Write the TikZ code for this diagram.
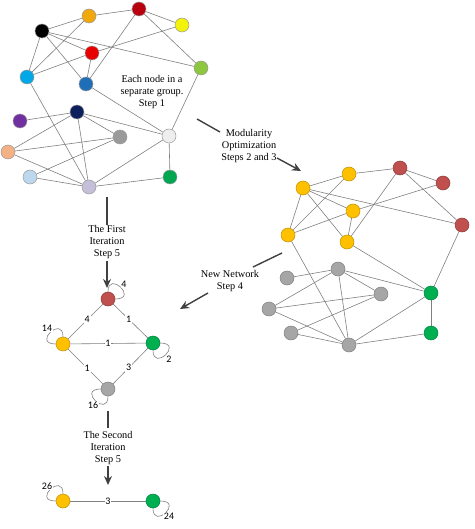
\documentclass[tikz,border=0pt]{standalone}
\usepackage{fontspec}
\setmainfont{Liberation Serif}
\newfontfamily\numfont{Carlito}
\usetikzlibrary{arrows.meta}
\pgfdeclarelayer{bg}
\pgfsetlayers{bg,main}
\definecolor{cGold}{HTML}{F0A80A}
\definecolor{cDRed}{HTML}{B8000F}
\definecolor{cYel}{HTML}{F2F20A}
\definecolor{cRed}{HTML}{E60000}
\definecolor{cCyan}{HTML}{00A8E8}
\definecolor{cBlue}{HTML}{1F6FB8}
\definecolor{cYGr}{HTML}{8DC63F}
\definecolor{cPurp}{HTML}{7030A0}
\definecolor{cNavy}{HTML}{0D1F5C}
\definecolor{cGray}{HTML}{9A9A9A}
\definecolor{cLight}{HTML}{EEEEEE}
\definecolor{cPeach}{HTML}{F4B183}
\definecolor{cPale}{HTML}{BDD7EE}
\definecolor{cLav}{HTML}{C5BFD9}
\definecolor{cGreen}{HTML}{00A650}
\definecolor{kY}{HTML}{FFC000}
\definecolor{kYb}{HTML}{BF9000}
\definecolor{kR}{HTML}{C0504D}
\definecolor{kRb}{HTML}{8C3A37}
\definecolor{kG}{HTML}{A6A6A6}
\definecolor{kGb}{HTML}{808080}
\definecolor{kN}{HTML}{00B050}
\definecolor{kNb}{HTML}{008040}
\definecolor{edgecol}{HTML}{808080}
\definecolor{arrcol}{HTML}{404040}
\begin{document}
\begin{tikzpicture}[x=1pt,y=-1pt,
  nd/.style={circle,minimum size=14pt,inner sep=0pt,line width=0.5pt,draw=black!40},
  ny/.style={nd,fill=kY,draw=kYb},
  nr/.style={nd,fill=kR,draw=kRb},
  ng/.style={nd,fill=kG,draw=kGb},
  nn/.style={nd,fill=kN,draw=kNb},
  edge/.style={draw=edgecol,line width=0.6pt},
  arrline/.style={draw=arrcol,line width=1.4pt},
  arr/.style={draw=arrcol,line width=1.4pt,-{Stealth[length=9pt,width=8pt]}},
  steptxt/.style={align=center,font=\fontsize{10.3}{12.2}\selectfont,inner sep=0pt},
  elab/.style={fill=white,inner sep=0.8pt,font=\numfont\fontsize{10}{10}\selectfont},
  nlab/.style={fill=white,inner sep=0.5pt,font=\numfont\fontsize{10}{10}\selectfont}]
\useasboundingbox (0,0) rectangle (474,529);
% ---------- network 1 ----------
\node[nd,fill=black] (a1) at (42,31) {};
\node[nd,fill=cGold] (b1) at (89,16) {};
\node[nd,fill=cDRed] (c1) at (139,9) {};
\node[nd,fill=cYel] (d1) at (182,25) {};
\node[nd,fill=cRed] (e1) at (92,53) {};
\node[nd,fill=cCyan] (f1) at (27,77) {};
\node[nd,fill=cBlue] (g1) at (86,84) {};
\node[nd,fill=cYGr] (h1) at (201,68) {};
\node[nd,fill=cPurp] (i1) at (20,121) {};
\node[nd,fill=cNavy] (j1) at (77,112) {};
\node[nd,fill=cGray] (k1) at (120,137) {};
\node[nd,fill=cLight] (l1) at (169,136) {};
\node[nd,fill=cPeach] (m1) at (8,152) {};
\node[nd,fill=cPale] (n1) at (30,177) {};
\node[nd,fill=cLav] (o1) at (89,187) {};
\node[nd,fill=cGreen] (p1) at (170,177) {};
% ---------- network 2 ----------
\node[ny] (a2) at (303,188) {};
\node[ny] (b2) at (349,174) {};
\node[nr] (c2) at (400,168) {};
\node[nr] (d2) at (443,183) {};
\node[ny] (e2) at (353,211) {};
\node[ny] (f2) at (288,235) {};
\node[ny] (g2) at (347,242) {};
\node[nr] (h2) at (462,225) {};
\node[ng] (i2) at (287,278) {};
\node[ng] (j2) at (338,269) {};
\node[ng] (k2) at (381,294) {};
\node[nn] (l2) at (431,293) {};
\node[ng] (m2) at (269,309) {};
\node[ng] (n2) at (291,333) {};
\node[ng] (o2) at (349,345) {};
\node[nn] (p2) at (431,333) {};
\begin{pgfonlayer}{bg}
\foreach \u/\v in {a/b,b/c,c/d,a/f,a/e,a/g,a/h,b/f,f/e,e/g,g/c,e/d,c/h,h/l,g/l,f/o,
                   i/j,j/l,j/k,j/o,j/m,m/k,m/o,n/k,n/o,o/l,o/p,l/p}{
  \draw[edge] (\u1) -- (\v1);
  \draw[edge] (\u2) -- (\v2);
}
\end{pgfonlayer}
% ---------- texts and arrows ----------
\node[steptxt] (t1) at (152,92) {Each node in a\\separate group.\\Step 1};
\node[steptxt] (t2) at (249,146) {Modularity\\Optimization\\Steps 2 and 3};
\coordinate (m1a) at (197,119);
\coordinate (m1b) at (220,132);
\coordinate (m1c) at (277,158);
\coordinate (m1d) at (301,171);
\draw[arrline] (m1a) -- (m1b);
\draw[arr] (m1c) -- (m1d);
\node[steptxt] (t3) at (230,281) {New Network\\Step 4};
\coordinate (n1a) at (282,253);
\coordinate (n1b) at (253,267);
\coordinate (n1c) at (208,293);
\coordinate (n1d) at (180,309);
\draw[arrline] (n1a) -- (n1b);
\draw[arr] (n1c) -- (n1d);
\node[steptxt] (t4) at (107,242) {The First\\Iteration\\Step 5};
\coordinate (f1a) at (107,197);
\coordinate (f1b) at (107,225);
\coordinate (f1c) at (107,261);
\coordinate (f1d) at (107,288);
\draw[arrline] (f1a) -- (f1b);
\draw[arr] (f1c) -- (f1d);
% ---------- first aggregated graph ----------
\node[nr] (r3) at (108,299) {};
\node[ny] (y3) at (63,344) {};
\node[nn] (g3) at (153,343) {};
\node[ng] (k3) at (108,389) {};
\begin{pgfonlayer}{bg}
\draw[edge] (r3) -- node[elab,pos=0.45] (w1) {4} (y3);
\draw[edge] (r3) -- node[elab,pos=0.45] (w2) {1} (g3);
\draw[edge] (y3) -- node[elab] (w3) {1} (g3);
\draw[edge] (y3) -- node[elab,pos=0.55] (w4) {1} (k3);
\draw[edge] (g3) -- node[elab,pos=0.55] (w5) {3} (k3);
\draw[edge] (r3.90) .. controls +(0,-22) and +(24,0) .. (r3.0);
\draw[edge] (y3.90) .. controls +(0,-22) and +(-24,0) .. (y3.180);
\draw[edge] (g3.0) .. controls +(24,0) and +(0,22) .. (g3.-90);
\draw[edge] (k3.180) .. controls +(-24,0) and +(0,22) .. (k3.-90);
\end{pgfonlayer}
\node[nlab] (s1) at (124,284) {4};
\node[nlab] (s2) at (47,328) {14};
\node[nlab] (s3) at (169,359) {2};
\node[nlab] (s4) at (93,405) {16};
\node[steptxt] (t5) at (108,448) {The Second\\Iteration\\Step 5};
\coordinate (s2a) at (108,411);
\coordinate (s2b) at (108,428);
\coordinate (s2c) at (108,466);
\coordinate (s2d) at (108,485);
\draw[arrline] (s2a) -- (s2b);
\draw[arr] (s2c) -- (s2d);
% ---------- second aggregated graph ----------
\node[ny] (y4) at (63,501) {};
\node[nn] (g4) at (153,501) {};
\begin{pgfonlayer}{bg}
\draw[edge] (y4) -- node[elab] (w6) {3} (g4);
\draw[edge] (y4.90) .. controls +(0,-22) and +(-24,0) .. (y4.180);
\draw[edge] (g4.0) .. controls +(24,0) and +(0,22) .. (g4.-90);
\end{pgfonlayer}
\node[nlab] (s5) at (47,486) {26};
\node[nlab] (s6) at (169,516) {24};
\end{tikzpicture}
\end{document}
